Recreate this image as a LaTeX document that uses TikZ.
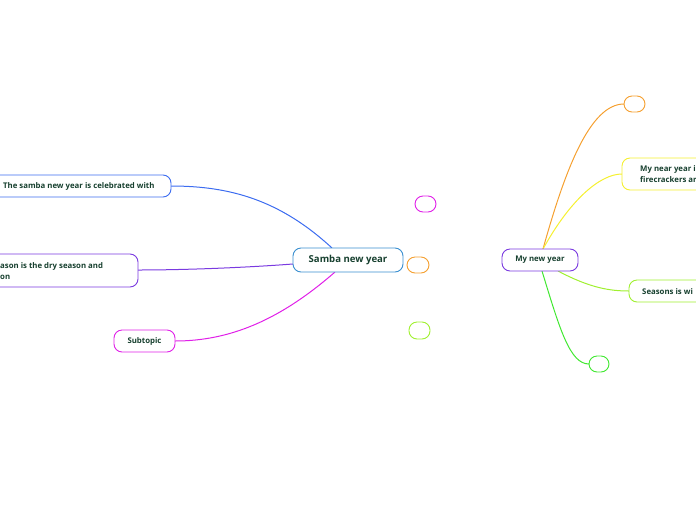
\documentclass[tikz,border=0pt]{standalone}
\usepackage{fontspec}
\setmainfont{Open Sans}
\begin{document}
\begin{tikzpicture}[x=1pt,y=-1pt,
  bx/.style={draw,rounded corners=8pt,line width=0.9pt,fill=white,inner sep=0pt},
  tx/.style={inner sep=0pt,anchor=west,align=left,font=\bfseries\fontsize{7.8}{10.5}\selectfont,text=ctxt},
  ed/.style={line width=1pt}]
\definecolor{ctxt}{HTML}{17402F}
\useasboundingbox (0,0) rectangle (696,520);
\clip (0,0) rectangle (696,520);
\definecolor{cblue}{HTML}{3C6CF0}
\definecolor{cpur}{HTML}{7A3AE0}
\definecolor{cmag}{HTML}{E020E8}
\definecolor{corg}{HTML}{F5A030}
\definecolor{cyel}{HTML}{F5F030}
\definecolor{clim}{HTML}{A0F030}
\definecolor{cgrn}{HTML}{40E830}
\definecolor{ccen}{HTML}{3A8FD0}
% edges
\coordinate (s1) at (332,248); \coordinate (s2) at (293,264); \coordinate (s3) at (335,272);
\coordinate (t1) at (171,186); \coordinate (t2) at (138,270); \coordinate (t3) at (175,341);
\draw[ed,cblue] (s1) .. controls (280,200) and (230,186) .. (t1);
\draw[ed,cpur] (s2) .. controls (240,268) and (180,270) .. (t2);
\draw[ed,cmag] (s3) .. controls (280,320) and (230,341) .. (t3);
\coordinate (m1) at (543,249); \coordinate (m2) at (558,271); \coordinate (m3) at (542,271);
\coordinate (u1) at (624,104); \coordinate (u2) at (622,174); \coordinate (u3) at (629,291); \coordinate (u4) at (589,364);
\draw[ed,corg] (m1) .. controls (565,170) and (590,104) .. (u1);
\draw[ed,cyel] (m1) .. controls (570,200) and (600,174) .. (u2);
\draw[ed,clim] (m2) .. controls (590,288) and (610,291) .. (u3);
\draw[ed,cgrn] (m3) .. controls (560,330) and (570,364) .. (u4);
% boxes
\node[bx,draw=ccen,minimum width=110pt,minimum height=24pt] (c) at (348,260) {};
\node[bx,draw=cblue,minimum width=181pt,minimum height=22pt] (a) at (80.5,186) {};
\node[bx,draw=cpur,minimum width=160pt,minimum height=33pt] (b) at (58,270.5) {};
\node[bx,draw=cmag,minimum width=61pt,minimum height=22pt] (d) at (144.5,341) {};
\node[bx,draw=cmag,minimum width=21pt,minimum height=16pt] (e1) at (425.5,204) {};
\node[bx,draw=corg,minimum width=22pt,minimum height=16pt] (e2) at (418,265) {};
\node[bx,draw=clim,minimum width=21pt,minimum height=17pt] (e3) at (419.5,330.5) {};
\node[bx,draw=cpur,minimum width=76pt,minimum height=22pt] (m) at (540,260) {};
\node[bx,draw=corg,minimum width=21pt,minimum height=16pt] (f1) at (634.5,104) {};
\node[bx,draw=cyel,minimum width=110pt,minimum height=32pt] (f2) at (677,174) {};
\node[bx,draw=clim,minimum width=100pt,minimum height=22pt] (f3) at (679,291) {};
\node[bx,draw=cgrn,minimum width=20pt,minimum height=16pt] (f4) at (599,364) {};
% texts
\node[tx,anchor=center,font=\bfseries\fontsize{9.6}{12}\selectfont] (ct) at (348,260) {Samba new year};
\node[tx] (at) at (3,186) {The samba new year is celebrated with};
\node[tx] (bt) at (0,271) {ason is the dry season and\\on};
\node[tx,anchor=center] (dt) at (144.5,341) {Subtopic};
\node[tx,anchor=center] (mt) at (540,260) {My new year};
\node[tx] (f2t) at (640,174) {My near year i\\firecrackers ar};
\node[tx] (f3t) at (642,291.5) {Seasons is wi};
\end{tikzpicture}
\end{document}
